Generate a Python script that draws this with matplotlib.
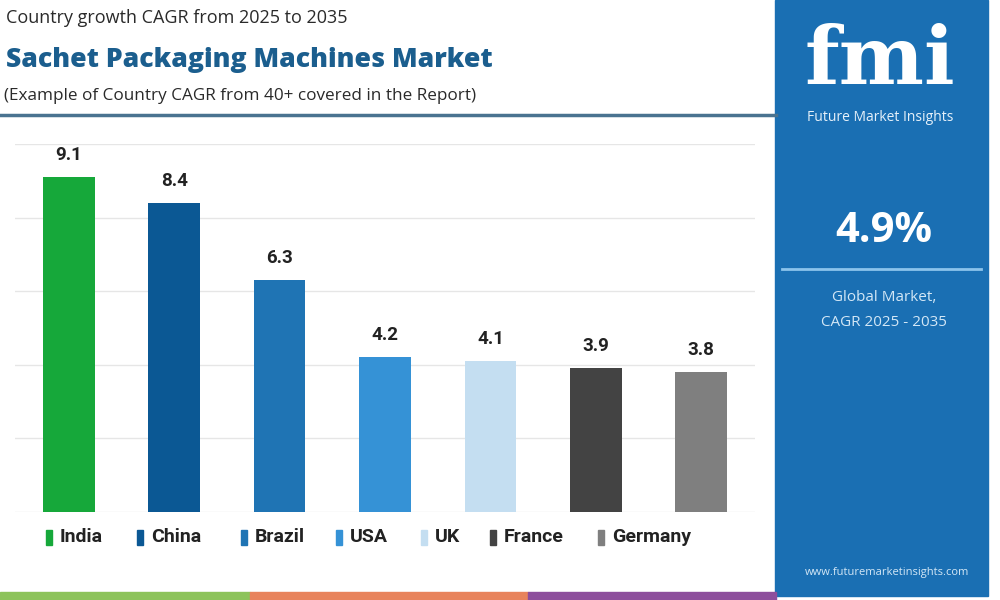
import matplotlib
matplotlib.use("Agg")
import matplotlib.pyplot as plt
from matplotlib.patches import Rectangle
from matplotlib.lines import Line2D

countries = ['India', 'China', 'Brazil', 'USA', 'UK', 'France', 'Germany']
cagr = [9.1, 8.4, 6.3, 4.2, 4.1, 3.9, 3.8]
colors = ['#16a83a', '#0b5894', '#1f74b4', '#3592d6', '#c4def1', '#434343', '#7f7f7f']
legend_x = [46, 137, 241, 336, 421, 490, 598]   # px, square left edges

global_cagr = '4.9%'

W, H = 1000, 600
fig = plt.figure(figsize=(10, 6), dpi=100)
fig.patch.set_facecolor('white')

def fx(px):
    return px / W

def fy(py):
    return 1 - py / H

# main bar axes
ax = fig.add_axes([fx(15), fy(512), fx(740), 368 / H])
xs = range(len(countries))
ax.bar(xs, cagr, width=0.49, color=colors, zorder=3)
for x, v in zip(xs, cagr):
    ax.annotate(f'{v}', (x, v), xytext=(0, 16), textcoords='offset points',
                ha='center', va='center', fontsize=13.5, fontweight='bold',
                family='Roboto', color='#222222')
ax.set_xlim(-0.51, 6.51)
ax.set_ylim(0, 10)
ax.set_yticks([0, 2, 4, 6, 8, 10])
ax.grid(axis='y', color='#e6e6e6', lw=1, zorder=0)
ax.tick_params(left=False, bottom=False, labelleft=False, labelbottom=False)
for s in ax.spines.values():
    s.set_visible(False)
ax.set_facecolor('none')

# titles
fig.text(fx(6), fy(18), 'Country growth CAGR from 2025 to 2035', fontsize=13,
         color='#2a2a2a', va='center', family='Open Sans')
fig.text(fx(6), fy(60), 'Sachet Packaging Machines Market', fontsize=19.2,
         fontweight='heavy', color='#1b5e8e', va='center', family='Open Sans')
fig.text(fx(4), fy(96), '(Example of Country CAGR from 40+ covered in the Report)',
         fontsize=12.3, color='#2a2a2a', va='center', family='Open Sans')
fig.add_artist(Line2D([0, fx(776)], [fy(115), fy(115)], color='#4a7390', lw=2.5))

# legend
for name, c, lx in zip(countries, colors, legend_x):
    fig.add_artist(Rectangle((fx(lx), fy(545)), fx(6), 15 / H, color=c))
    fig.text(fx(lx + 14), fy(537), name, fontsize=14, fontweight='bold',
             color='#222222', va='center', family='Roboto')

# right panel
fig.add_artist(Rectangle((fx(775), fy(596)), fx(213), 596 / H, color='#1a6fb3'))
fig.text(fx(880), fy(62), 'fmi', fontsize=58, fontweight='bold', color='white',
         ha='center', va='center', family='DejaVu Serif')
fig.text(fx(880), fy(117), 'Future Market Insights', fontsize=10, color='#e6f1fa',
         ha='center', va='center', family='Open Sans')
fig.text(fx(884), fy(232), global_cagr, fontsize=30, fontweight='bold', color='white',
         ha='center', va='center', family='Open Sans')
fig.add_artist(Line2D([fx(782), fx(981)], [fy(269), fy(269)], color='#8cc4ec', lw=2))
fig.text(fx(884), fy(298), 'Global Market,', fontsize=11, color='#d3e7f6',
         ha='center', va='center', family='Open Sans')
fig.text(fx(884), fy(323), 'CAGR 2025 - 2035', fontsize=11, color='#d3e7f6',
         ha='center', va='center', family='Open Sans')
fig.text(fx(887), fy(573), 'www.futuremarketinsights.com', fontsize=8, color='#d3e7f6',
         ha='center', va='center', family='Open Sans')

# bottom stripes
fig.add_artist(Rectangle((0, 0), fx(250), 8 / H, color='#8dc35b'))
fig.add_artist(Rectangle((fx(250), 0), fx(278), 8 / H, color='#e8835c'))
fig.add_artist(Rectangle((fx(528), 0), fx(248), 8 / H, color='#8d4e9c'))

fig.savefig('out.png', dpi=100)
